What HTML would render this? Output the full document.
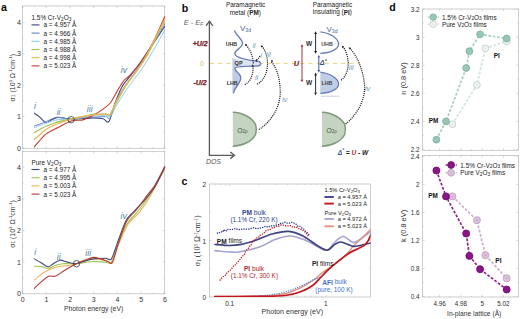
<!DOCTYPE html>
<html><head><meta charset="utf-8"><style>
html,body{margin:0;padding:0;background:#fff;width:520px;height:319px;overflow:hidden;}
svg{display:block;font-family:"Liberation Sans",sans-serif;}
</style></head><body>
<svg width="520" height="319" viewBox="0 0 520 319" font-family="Liberation Sans, sans-serif">
<rect width="520" height="319" fill="#fff"/>
<text x="1.0" y="7.2" font-size="10.60" fill="#0a0a0a" text-anchor="start" font-weight="bold" font-style="normal" dominant-baseline="central" >a</text>
<text x="181.8" y="7.6" font-size="10.60" fill="#0a0a0a" text-anchor="start" font-weight="bold" font-style="normal" dominant-baseline="central" >b</text>
<text x="181.6" y="181.2" font-size="10.60" fill="#0a0a0a" text-anchor="start" font-weight="bold" font-style="normal" dominant-baseline="central" >c</text>
<text x="389.2" y="7.2" font-size="10.60" fill="#0a0a0a" text-anchor="start" font-weight="bold" font-style="normal" dominant-baseline="central" >d</text>
<rect x="22.5" y="6.0" width="142.2" height="142.3" fill="none" stroke="#b8b8b8" stroke-width="0.7"/>
<line x1="22.5" y1="148.3" x2="22.5" y2="146.3" stroke="#b8b8b8" stroke-width="0.60" />
<line x1="22.5" y1="6.0" x2="22.5" y2="8.0" stroke="#b8b8b8" stroke-width="0.60" />
<line x1="46.2" y1="148.3" x2="46.2" y2="146.3" stroke="#b8b8b8" stroke-width="0.60" />
<line x1="46.2" y1="6.0" x2="46.2" y2="8.0" stroke="#b8b8b8" stroke-width="0.60" />
<line x1="69.9" y1="148.3" x2="69.9" y2="146.3" stroke="#b8b8b8" stroke-width="0.60" />
<line x1="69.9" y1="6.0" x2="69.9" y2="8.0" stroke="#b8b8b8" stroke-width="0.60" />
<line x1="93.6" y1="148.3" x2="93.6" y2="146.3" stroke="#b8b8b8" stroke-width="0.60" />
<line x1="93.6" y1="6.0" x2="93.6" y2="8.0" stroke="#b8b8b8" stroke-width="0.60" />
<line x1="117.3" y1="148.3" x2="117.3" y2="146.3" stroke="#b8b8b8" stroke-width="0.60" />
<line x1="117.3" y1="6.0" x2="117.3" y2="8.0" stroke="#b8b8b8" stroke-width="0.60" />
<line x1="141.0" y1="148.3" x2="141.0" y2="146.3" stroke="#b8b8b8" stroke-width="0.60" />
<line x1="141.0" y1="6.0" x2="141.0" y2="8.0" stroke="#b8b8b8" stroke-width="0.60" />
<line x1="164.7" y1="148.3" x2="164.7" y2="146.3" stroke="#b8b8b8" stroke-width="0.60" />
<line x1="164.7" y1="6.0" x2="164.7" y2="8.0" stroke="#b8b8b8" stroke-width="0.60" />
<line x1="34.4" y1="148.3" x2="34.4" y2="147.1" stroke="#b8b8b8" stroke-width="0.50" />
<line x1="34.4" y1="6.0" x2="34.4" y2="7.2" stroke="#b8b8b8" stroke-width="0.50" />
<line x1="58.0" y1="148.3" x2="58.0" y2="147.1" stroke="#b8b8b8" stroke-width="0.50" />
<line x1="58.0" y1="6.0" x2="58.0" y2="7.2" stroke="#b8b8b8" stroke-width="0.50" />
<line x1="81.8" y1="148.3" x2="81.8" y2="147.1" stroke="#b8b8b8" stroke-width="0.50" />
<line x1="81.8" y1="6.0" x2="81.8" y2="7.2" stroke="#b8b8b8" stroke-width="0.50" />
<line x1="105.5" y1="148.3" x2="105.5" y2="147.1" stroke="#b8b8b8" stroke-width="0.50" />
<line x1="105.5" y1="6.0" x2="105.5" y2="7.2" stroke="#b8b8b8" stroke-width="0.50" />
<line x1="129.1" y1="148.3" x2="129.1" y2="147.1" stroke="#b8b8b8" stroke-width="0.50" />
<line x1="129.1" y1="6.0" x2="129.1" y2="7.2" stroke="#b8b8b8" stroke-width="0.50" />
<line x1="152.8" y1="148.3" x2="152.8" y2="147.1" stroke="#b8b8b8" stroke-width="0.50" />
<line x1="152.8" y1="6.0" x2="152.8" y2="7.2" stroke="#b8b8b8" stroke-width="0.50" />
<line x1="22.5" y1="148.0" x2="24.5" y2="148.0" stroke="#b8b8b8" stroke-width="0.60" />
<line x1="164.7" y1="148.0" x2="162.7" y2="148.0" stroke="#b8b8b8" stroke-width="0.60" />
<text x="20.9" y="148.0" font-size="7.00" fill="#2e2e2e" text-anchor="end" font-weight="normal" font-style="normal" dominant-baseline="central" >0</text>
<line x1="22.5" y1="116.6" x2="24.5" y2="116.6" stroke="#b8b8b8" stroke-width="0.60" />
<line x1="164.7" y1="116.6" x2="162.7" y2="116.6" stroke="#b8b8b8" stroke-width="0.60" />
<text x="20.9" y="116.6" font-size="7.00" fill="#2e2e2e" text-anchor="end" font-weight="normal" font-style="normal" dominant-baseline="central" >1</text>
<line x1="22.5" y1="85.2" x2="24.5" y2="85.2" stroke="#b8b8b8" stroke-width="0.60" />
<line x1="164.7" y1="85.2" x2="162.7" y2="85.2" stroke="#b8b8b8" stroke-width="0.60" />
<text x="20.9" y="85.2" font-size="7.00" fill="#2e2e2e" text-anchor="end" font-weight="normal" font-style="normal" dominant-baseline="central" >2</text>
<line x1="22.5" y1="53.8" x2="24.5" y2="53.8" stroke="#b8b8b8" stroke-width="0.60" />
<line x1="164.7" y1="53.8" x2="162.7" y2="53.8" stroke="#b8b8b8" stroke-width="0.60" />
<text x="20.9" y="53.8" font-size="7.00" fill="#2e2e2e" text-anchor="end" font-weight="normal" font-style="normal" dominant-baseline="central" >3</text>
<line x1="22.5" y1="22.4" x2="24.5" y2="22.4" stroke="#b8b8b8" stroke-width="0.60" />
<line x1="164.7" y1="22.4" x2="162.7" y2="22.4" stroke="#b8b8b8" stroke-width="0.60" />
<text x="20.9" y="22.4" font-size="7.00" fill="#2e2e2e" text-anchor="end" font-weight="normal" font-style="normal" dominant-baseline="central" >4</text>
<line x1="22.5" y1="132.3" x2="23.7" y2="132.3" stroke="#b8b8b8" stroke-width="0.50" />
<line x1="164.7" y1="132.3" x2="163.5" y2="132.3" stroke="#b8b8b8" stroke-width="0.50" />
<line x1="22.5" y1="100.9" x2="23.7" y2="100.9" stroke="#b8b8b8" stroke-width="0.50" />
<line x1="164.7" y1="100.9" x2="163.5" y2="100.9" stroke="#b8b8b8" stroke-width="0.50" />
<line x1="22.5" y1="69.5" x2="23.7" y2="69.5" stroke="#b8b8b8" stroke-width="0.50" />
<line x1="164.7" y1="69.5" x2="163.5" y2="69.5" stroke="#b8b8b8" stroke-width="0.50" />
<line x1="22.5" y1="38.1" x2="23.7" y2="38.1" stroke="#b8b8b8" stroke-width="0.50" />
<line x1="164.7" y1="38.1" x2="163.5" y2="38.1" stroke="#b8b8b8" stroke-width="0.50" />
<line x1="22.5" y1="6.7" x2="23.7" y2="6.7" stroke="#b8b8b8" stroke-width="0.50" />
<line x1="164.7" y1="6.7" x2="163.5" y2="6.7" stroke="#b8b8b8" stroke-width="0.50" />
<path d="M34.4,113.1 C35.1,113.7 37.1,115.0 39.1,116.6 C41.1,118.2 44.0,122.1 46.2,122.6 C48.4,123.0 50.1,120.3 52.1,119.4 C54.1,118.6 55.9,117.8 58.0,117.5 C60.2,117.3 63.0,117.9 65.2,118.2 C67.3,118.4 68.3,119.0 71.1,119.1 C73.8,119.2 78.0,119.0 81.8,118.8 C85.5,118.6 90.0,117.9 93.6,117.9 C97.2,117.9 100.5,118.2 103.1,118.8 C105.6,119.4 107.0,123.9 109.0,121.3 C111.0,118.7 112.8,109.2 114.9,103.4 C117.1,97.7 119.7,91.1 122.0,86.8 C124.4,82.4 126.0,81.5 129.1,77.4 C132.3,73.2 137.1,67.1 141.0,61.7 C144.9,56.2 148.9,50.2 152.8,44.4 C156.8,38.5 162.7,29.5 164.7,26.5" stroke="#3b4587" stroke-width="1.10" fill="none" stroke-linecap="round" stroke-linejoin="round" />
<path d="M34.4,126.0 C35.5,125.6 39.5,124.2 41.5,123.5 C43.4,122.8 44.4,122.4 46.2,121.6 C48.0,120.8 50.1,119.5 52.1,118.8 C54.1,118.1 54.9,117.2 58.0,117.2 C61.2,117.3 67.1,119.0 71.1,119.1 C75.0,119.2 78.0,118.2 81.8,117.9 C85.5,117.5 89.6,117.4 93.6,117.2 C97.5,117.0 102.7,116.5 105.5,116.6 C108.2,116.7 108.4,120.2 110.2,117.5 C112.0,114.9 113.7,106.0 116.1,100.9 C118.5,95.8 121.8,90.7 124.4,86.8 C127.0,82.8 128.8,81.3 131.5,77.4 C134.3,73.4 137.4,68.7 141.0,63.2 C144.6,57.7 148.9,50.9 152.8,44.4 C156.8,37.8 162.7,27.4 164.7,24.0" stroke="#6681c2" stroke-width="1.00" fill="none" stroke-linecap="round" stroke-linejoin="round" />
<path d="M34.4,127.6 C35.5,127.1 39.5,125.5 41.5,124.8 C43.4,124.0 43.4,123.7 46.2,122.9 C49.0,122.0 53.9,120.4 58.0,119.7 C62.2,119.1 67.1,119.5 71.1,119.1 C75.0,118.7 78.0,118.1 81.8,117.5 C85.5,117.0 89.6,116.3 93.6,116.0 C97.5,115.7 102.6,115.7 105.5,115.7 C108.3,115.7 108.7,117.9 110.7,116.0 C112.6,114.0 114.2,109.1 117.3,104.0 C120.4,99.0 125.2,91.5 129.1,85.8 C133.1,80.2 137.1,75.9 141.0,70.1 C144.9,64.4 148.9,57.9 152.8,51.3 C156.8,44.6 162.7,33.8 164.7,30.2" stroke="#8ccbea" stroke-width="1.00" fill="none" stroke-linecap="round" stroke-linejoin="round" />
<path d="M34.4,146.7 C35.5,145.4 39.5,140.7 41.5,138.6 C43.4,136.4 43.4,135.7 46.2,133.9 C49.0,132.0 53.9,129.7 58.0,127.6 C62.2,125.4 67.1,122.3 71.1,121.0 C75.0,119.7 78.8,120.7 81.8,120.1 C84.7,119.4 86.9,118.1 88.9,117.2 C90.8,116.4 91.2,116.4 93.6,115.0 C96.0,113.7 100.2,111.2 103.1,109.1 C105.9,107.0 108.3,105.5 110.7,102.5 C113.0,99.4 115.1,94.5 117.3,90.9 C119.5,87.2 121.8,83.2 123.9,80.5 C126.1,77.8 127.5,78.0 130.3,74.8 C133.2,71.7 137.2,67.0 141.0,61.7 C144.8,56.3 148.9,50.3 152.8,42.8 C156.8,35.3 162.7,21.1 164.7,16.7" stroke="#c23b2f" stroke-width="1.10" fill="none" stroke-linecap="round" stroke-linejoin="round" />
<path d="M34.4,132.6 C35.5,131.9 39.5,129.6 41.5,128.5 C43.4,127.5 43.4,127.4 46.2,126.3 C49.0,125.2 53.9,123.1 58.0,121.9 C62.2,120.7 67.1,119.9 71.1,119.1 C75.0,118.3 78.0,117.7 81.8,116.9 C85.5,116.1 89.6,114.9 93.6,114.4 C97.5,113.9 102.7,114.0 105.5,114.1 C108.2,114.1 108.2,116.9 110.2,114.7 C112.2,112.5 114.6,105.8 117.3,100.9 C120.0,96.0 123.1,90.1 126.3,85.2 C129.5,80.3 132.6,76.9 136.3,71.7 C139.9,66.5 143.4,62.3 148.1,53.8 C152.8,45.3 161.9,26.3 164.7,20.8" stroke="#9dc452" stroke-width="1.20" fill="none" stroke-linecap="round" stroke-linejoin="round" />
<path d="M34.4,139.5 C35.5,138.5 39.5,135.0 41.5,133.2 C43.4,131.5 43.4,130.8 46.2,129.2 C49.0,127.5 53.9,125.2 58.0,123.5 C62.2,121.8 67.1,120.3 71.1,119.1 C75.0,118.0 78.0,117.3 81.8,116.6 C85.5,115.9 89.6,115.4 93.6,115.0 C97.5,114.6 102.7,114.2 105.5,114.1 C108.2,113.9 108.2,116.5 110.2,114.1 C112.2,111.6 114.5,104.4 117.3,99.3 C120.1,94.3 123.6,88.2 126.8,83.6 C129.9,79.0 132.7,76.9 136.3,71.7 C139.8,66.5 143.4,61.0 148.1,52.2 C152.8,43.5 161.9,24.8 164.7,19.3" stroke="#f0b354" stroke-width="1.20" fill="none" stroke-linecap="round" stroke-linejoin="round" />
<circle cx="71.1" cy="119.7" r="3.2" fill="none" stroke="#2a3a4a" stroke-width="0.8"/>
<text x="35.0" y="106.0" font-size="8.80" fill="#5288a6" text-anchor="middle" font-weight="normal" font-style="italic" dominant-baseline="central" >i</text>
<text x="58.6" y="112.2" font-size="8.80" fill="#5288a6" text-anchor="middle" font-weight="normal" font-style="italic" dominant-baseline="central" >ii</text>
<text x="89.7" y="108.8" font-size="8.80" fill="#5288a6" text-anchor="middle" font-weight="normal" font-style="italic" dominant-baseline="central" >iii</text>
<text x="124.0" y="70.4" font-size="8.80" fill="#5288a6" text-anchor="middle" font-weight="normal" font-style="italic" dominant-baseline="central" >iv</text>
<text x="31.5" y="17.9" font-size="6.40" fill="#222" text-anchor="start" font-weight="normal" font-style="normal" dominant-baseline="central" >1.5% Cr-V<tspan baseline-shift="-25%" font-size="75%">2</tspan>O<tspan baseline-shift="-25%" font-size="75%">3</tspan></text>
<line x1="31.5" y1="24.9" x2="39.5" y2="24.9" stroke="#3b4587" stroke-width="1.10" />
<text x="43.5" y="24.9" font-size="6.40" fill="#222" text-anchor="start" font-weight="normal" font-style="normal" dominant-baseline="central" >a = 4.957 Å</text>
<line x1="31.5" y1="33.1" x2="39.5" y2="33.1" stroke="#6681c2" stroke-width="1.10" />
<text x="43.5" y="33.1" font-size="6.40" fill="#222" text-anchor="start" font-weight="normal" font-style="normal" dominant-baseline="central" >a = 4.966 Å</text>
<line x1="31.5" y1="41.3" x2="39.5" y2="41.3" stroke="#8ccbea" stroke-width="1.10" />
<text x="43.5" y="41.3" font-size="6.40" fill="#222" text-anchor="start" font-weight="normal" font-style="normal" dominant-baseline="central" >a = 4.985 Å</text>
<line x1="31.5" y1="49.5" x2="39.5" y2="49.5" stroke="#9dc452" stroke-width="1.10" />
<text x="43.5" y="49.5" font-size="6.40" fill="#222" text-anchor="start" font-weight="normal" font-style="normal" dominant-baseline="central" >a = 4.988 Å</text>
<line x1="31.5" y1="57.7" x2="39.5" y2="57.7" stroke="#f0b354" stroke-width="1.10" />
<text x="43.5" y="57.7" font-size="6.40" fill="#222" text-anchor="start" font-weight="normal" font-style="normal" dominant-baseline="central" >a = 4.998 Å</text>
<line x1="31.5" y1="65.9" x2="39.5" y2="65.9" stroke="#c23b2f" stroke-width="1.10" />
<text x="43.5" y="65.9" font-size="6.40" fill="#222" text-anchor="start" font-weight="normal" font-style="normal" dominant-baseline="central" >a = 5.023 Å</text>
<text x="0" y="0" transform="translate(12.0,77.6) rotate(-90)" font-size="7.0" fill="#333" text-anchor="middle" dominant-baseline="central">σ<tspan font-size="65%" baseline-shift="-20%">1</tspan> (10<tspan font-size="60%" baseline-shift="45%">3</tspan> Ω<tspan font-size="60%" baseline-shift="45%">-1</tspan>cm<tspan font-size="60%" baseline-shift="45%">-1</tspan>)</text>
<rect x="22.5" y="151.3" width="142.2" height="142.5" fill="none" stroke="#b8b8b8" stroke-width="0.7"/>
<line x1="22.5" y1="293.8" x2="22.5" y2="291.8" stroke="#b8b8b8" stroke-width="0.60" />
<line x1="22.5" y1="151.3" x2="22.5" y2="153.3" stroke="#b8b8b8" stroke-width="0.60" />
<line x1="46.2" y1="293.8" x2="46.2" y2="291.8" stroke="#b8b8b8" stroke-width="0.60" />
<line x1="46.2" y1="151.3" x2="46.2" y2="153.3" stroke="#b8b8b8" stroke-width="0.60" />
<line x1="69.9" y1="293.8" x2="69.9" y2="291.8" stroke="#b8b8b8" stroke-width="0.60" />
<line x1="69.9" y1="151.3" x2="69.9" y2="153.3" stroke="#b8b8b8" stroke-width="0.60" />
<line x1="93.6" y1="293.8" x2="93.6" y2="291.8" stroke="#b8b8b8" stroke-width="0.60" />
<line x1="93.6" y1="151.3" x2="93.6" y2="153.3" stroke="#b8b8b8" stroke-width="0.60" />
<line x1="117.3" y1="293.8" x2="117.3" y2="291.8" stroke="#b8b8b8" stroke-width="0.60" />
<line x1="117.3" y1="151.3" x2="117.3" y2="153.3" stroke="#b8b8b8" stroke-width="0.60" />
<line x1="141.0" y1="293.8" x2="141.0" y2="291.8" stroke="#b8b8b8" stroke-width="0.60" />
<line x1="141.0" y1="151.3" x2="141.0" y2="153.3" stroke="#b8b8b8" stroke-width="0.60" />
<line x1="164.7" y1="293.8" x2="164.7" y2="291.8" stroke="#b8b8b8" stroke-width="0.60" />
<line x1="164.7" y1="151.3" x2="164.7" y2="153.3" stroke="#b8b8b8" stroke-width="0.60" />
<line x1="34.4" y1="293.8" x2="34.4" y2="292.6" stroke="#b8b8b8" stroke-width="0.50" />
<line x1="34.4" y1="151.3" x2="34.4" y2="152.5" stroke="#b8b8b8" stroke-width="0.50" />
<line x1="58.0" y1="293.8" x2="58.0" y2="292.6" stroke="#b8b8b8" stroke-width="0.50" />
<line x1="58.0" y1="151.3" x2="58.0" y2="152.5" stroke="#b8b8b8" stroke-width="0.50" />
<line x1="81.8" y1="293.8" x2="81.8" y2="292.6" stroke="#b8b8b8" stroke-width="0.50" />
<line x1="81.8" y1="151.3" x2="81.8" y2="152.5" stroke="#b8b8b8" stroke-width="0.50" />
<line x1="105.5" y1="293.8" x2="105.5" y2="292.6" stroke="#b8b8b8" stroke-width="0.50" />
<line x1="105.5" y1="151.3" x2="105.5" y2="152.5" stroke="#b8b8b8" stroke-width="0.50" />
<line x1="129.1" y1="293.8" x2="129.1" y2="292.6" stroke="#b8b8b8" stroke-width="0.50" />
<line x1="129.1" y1="151.3" x2="129.1" y2="152.5" stroke="#b8b8b8" stroke-width="0.50" />
<line x1="152.8" y1="293.8" x2="152.8" y2="292.6" stroke="#b8b8b8" stroke-width="0.50" />
<line x1="152.8" y1="151.3" x2="152.8" y2="152.5" stroke="#b8b8b8" stroke-width="0.50" />
<line x1="22.5" y1="293.7" x2="24.5" y2="293.7" stroke="#b8b8b8" stroke-width="0.60" />
<line x1="164.7" y1="293.7" x2="162.7" y2="293.7" stroke="#b8b8b8" stroke-width="0.60" />
<text x="20.9" y="293.7" font-size="7.00" fill="#2e2e2e" text-anchor="end" font-weight="normal" font-style="normal" dominant-baseline="central" >0</text>
<line x1="22.5" y1="262.1" x2="24.5" y2="262.1" stroke="#b8b8b8" stroke-width="0.60" />
<line x1="164.7" y1="262.1" x2="162.7" y2="262.1" stroke="#b8b8b8" stroke-width="0.60" />
<text x="20.9" y="262.1" font-size="7.00" fill="#2e2e2e" text-anchor="end" font-weight="normal" font-style="normal" dominant-baseline="central" >1</text>
<line x1="22.5" y1="230.5" x2="24.5" y2="230.5" stroke="#b8b8b8" stroke-width="0.60" />
<line x1="164.7" y1="230.5" x2="162.7" y2="230.5" stroke="#b8b8b8" stroke-width="0.60" />
<text x="20.9" y="230.5" font-size="7.00" fill="#2e2e2e" text-anchor="end" font-weight="normal" font-style="normal" dominant-baseline="central" >2</text>
<line x1="22.5" y1="198.9" x2="24.5" y2="198.9" stroke="#b8b8b8" stroke-width="0.60" />
<line x1="164.7" y1="198.9" x2="162.7" y2="198.9" stroke="#b8b8b8" stroke-width="0.60" />
<text x="20.9" y="198.9" font-size="7.00" fill="#2e2e2e" text-anchor="end" font-weight="normal" font-style="normal" dominant-baseline="central" >3</text>
<line x1="22.5" y1="167.3" x2="24.5" y2="167.3" stroke="#b8b8b8" stroke-width="0.60" />
<line x1="164.7" y1="167.3" x2="162.7" y2="167.3" stroke="#b8b8b8" stroke-width="0.60" />
<text x="20.9" y="167.3" font-size="7.00" fill="#2e2e2e" text-anchor="end" font-weight="normal" font-style="normal" dominant-baseline="central" >4</text>
<line x1="22.5" y1="277.9" x2="23.7" y2="277.9" stroke="#b8b8b8" stroke-width="0.50" />
<line x1="164.7" y1="277.9" x2="163.5" y2="277.9" stroke="#b8b8b8" stroke-width="0.50" />
<line x1="22.5" y1="246.3" x2="23.7" y2="246.3" stroke="#b8b8b8" stroke-width="0.50" />
<line x1="164.7" y1="246.3" x2="163.5" y2="246.3" stroke="#b8b8b8" stroke-width="0.50" />
<line x1="22.5" y1="214.7" x2="23.7" y2="214.7" stroke="#b8b8b8" stroke-width="0.50" />
<line x1="164.7" y1="214.7" x2="163.5" y2="214.7" stroke="#b8b8b8" stroke-width="0.50" />
<line x1="22.5" y1="183.1" x2="23.7" y2="183.1" stroke="#b8b8b8" stroke-width="0.50" />
<line x1="164.7" y1="183.1" x2="163.5" y2="183.1" stroke="#b8b8b8" stroke-width="0.50" />
<line x1="22.5" y1="151.5" x2="23.7" y2="151.5" stroke="#b8b8b8" stroke-width="0.50" />
<line x1="164.7" y1="151.5" x2="163.5" y2="151.5" stroke="#b8b8b8" stroke-width="0.50" />
<path d="M34.4,266.2 C35.5,266.3 39.1,266.2 41.5,266.5 C43.8,266.9 46.2,268.6 48.6,268.4 C50.9,268.2 53.3,266.0 55.7,265.3 C58.0,264.5 59.3,263.9 62.8,263.7 C66.3,263.4 72.6,263.9 76.5,263.7 C80.5,263.4 83.6,262.5 86.5,262.1 C89.3,261.7 90.4,261.5 93.6,261.5 C96.8,261.5 102.5,262.0 105.5,262.1 C108.4,262.2 109.4,264.7 111.4,262.1 C113.3,259.5 114.7,252.6 117.3,246.3 C119.9,240.0 123.6,229.7 126.8,224.2 C129.9,218.6 132.7,217.6 136.3,213.1 C139.8,208.6 143.4,204.7 148.1,197.3 C152.8,189.9 161.9,173.6 164.7,168.9" stroke="#9dc452" stroke-width="1.10" fill="none" stroke-linecap="round" stroke-linejoin="round" />
<path d="M34.4,280.1 C35.5,279.1 39.1,275.8 41.5,274.1 C43.8,272.4 45.8,271.2 48.6,270.0 C51.3,268.8 54.5,267.6 58.0,266.8 C61.6,266.0 66.8,265.8 69.9,265.3 C73.0,264.7 73.8,264.5 76.5,263.7 C79.3,262.9 83.6,261.3 86.5,260.5 C89.3,259.7 90.4,258.9 93.6,258.9 C96.8,258.9 102.5,260.0 105.5,260.5 C108.4,261.0 109.2,264.7 111.4,262.1 C113.5,259.5 115.7,251.0 118.5,244.7 C121.2,238.4 124.6,229.4 128.0,224.2 C131.3,218.9 134.9,217.9 138.6,213.1 C142.4,208.4 146.1,203.4 150.5,195.7 C154.8,188.1 162.3,172.0 164.7,167.3" stroke="#f0b354" stroke-width="1.10" fill="none" stroke-linecap="round" stroke-linejoin="round" />
<path d="M34.4,258.9 C35.5,259.6 39.2,261.7 41.5,263.0 C43.8,264.4 46.1,266.7 48.1,266.8 C50.1,266.9 51.3,264.8 53.3,263.7 C55.3,262.6 57.6,260.5 59.9,260.2 C62.3,259.9 64.8,261.5 67.5,262.1 C70.3,262.7 73.4,263.9 76.5,263.7 C79.7,263.4 83.6,261.3 86.5,260.5 C89.3,259.7 90.4,259.3 93.6,258.9 C96.8,258.6 102.5,258.3 105.5,258.3 C108.4,258.3 109.4,261.5 111.4,258.9 C113.3,256.4 114.8,249.6 117.3,243.1 C119.8,236.7 123.5,225.3 126.3,220.1 C129.1,214.8 130.7,215.1 133.9,211.5 C137.1,208.0 142.2,203.1 145.7,198.9 C149.3,194.7 152.1,191.5 155.2,186.3 C158.4,181.0 163.1,170.5 164.7,167.3" stroke="#3d4a7a" stroke-width="1.10" fill="none" stroke-linecap="round" stroke-linejoin="round" />
<path d="M34.4,288.3 C35.5,287.2 39.1,283.7 41.5,281.7 C43.8,279.7 46.2,277.3 48.6,276.3 C50.9,275.4 52.9,277.1 55.7,276.0 C58.4,275.0 61.7,272.1 65.2,270.0 C68.6,267.9 73.0,265.4 76.5,263.7 C80.1,261.9 83.6,260.6 86.5,259.6 C89.3,258.5 91.2,257.5 93.6,257.4 C96.0,257.3 98.3,258.3 100.7,258.9 C103.1,259.6 105.8,260.9 107.8,261.5 C109.8,262.0 110.8,265.2 112.6,262.1 C114.3,259.0 116.1,250.0 118.5,243.1 C120.9,236.3 123.8,226.5 126.8,221.0 C129.7,215.5 133.1,213.9 136.3,210.0 C139.4,206.0 142.6,201.5 145.7,197.3 C148.9,193.1 152.1,189.8 155.2,184.7 C158.4,179.6 163.1,169.7 164.7,166.7" stroke="#b03a30" stroke-width="1.10" fill="none" stroke-linecap="round" stroke-linejoin="round" />
<circle cx="76.5" cy="263.7" r="3.2" fill="none" stroke="#2a3a4a" stroke-width="0.8"/>
<text x="35.3" y="251.8" font-size="8.80" fill="#5288a6" text-anchor="middle" font-weight="normal" font-style="italic" dominant-baseline="central" >i</text>
<text x="58.8" y="256.5" font-size="8.80" fill="#5288a6" text-anchor="middle" font-weight="normal" font-style="italic" dominant-baseline="central" >ii</text>
<text x="88.2" y="253.4" font-size="8.80" fill="#5288a6" text-anchor="middle" font-weight="normal" font-style="italic" dominant-baseline="central" >iii</text>
<text x="123.8" y="215.5" font-size="8.80" fill="#5288a6" text-anchor="middle" font-weight="normal" font-style="italic" dominant-baseline="central" >iv</text>
<text x="31.5" y="162.5" font-size="6.40" fill="#222" text-anchor="start" font-weight="normal" font-style="normal" dominant-baseline="central" >Pure V<tspan baseline-shift="-25%" font-size="75%">2</tspan>O<tspan baseline-shift="-25%" font-size="75%">3</tspan></text>
<line x1="31.5" y1="169.5" x2="39.5" y2="169.5" stroke="#3d4a7a" stroke-width="1.10" />
<text x="43.5" y="169.5" font-size="6.40" fill="#222" text-anchor="start" font-weight="normal" font-style="normal" dominant-baseline="central" >a = 4.977 Å</text>
<line x1="31.5" y1="177.7" x2="39.5" y2="177.7" stroke="#9dc452" stroke-width="1.10" />
<text x="43.5" y="177.7" font-size="6.40" fill="#222" text-anchor="start" font-weight="normal" font-style="normal" dominant-baseline="central" >a = 4.995 Å</text>
<line x1="31.5" y1="185.9" x2="39.5" y2="185.9" stroke="#f0b354" stroke-width="1.10" />
<text x="43.5" y="185.9" font-size="6.40" fill="#222" text-anchor="start" font-weight="normal" font-style="normal" dominant-baseline="central" >a = 5.003 Å</text>
<line x1="31.5" y1="194.1" x2="39.5" y2="194.1" stroke="#b03a30" stroke-width="1.10" />
<text x="43.5" y="194.1" font-size="6.40" fill="#222" text-anchor="start" font-weight="normal" font-style="normal" dominant-baseline="central" >a = 5.023 Å</text>
<text x="0" y="0" transform="translate(12.0,224.0) rotate(-90)" font-size="7.0" fill="#333" text-anchor="middle" dominant-baseline="central">σ<tspan font-size="65%" baseline-shift="-20%">1</tspan> (10<tspan font-size="60%" baseline-shift="45%">3</tspan> Ω<tspan font-size="60%" baseline-shift="45%">-1</tspan>cm<tspan font-size="60%" baseline-shift="45%">-1</tspan>)</text>
<text x="22.7" y="299.0" font-size="7.00" fill="#2e2e2e" text-anchor="middle" font-weight="normal" font-style="normal" dominant-baseline="central" >0</text>
<text x="46.4" y="299.0" font-size="7.00" fill="#2e2e2e" text-anchor="middle" font-weight="normal" font-style="normal" dominant-baseline="central" >1</text>
<text x="70.1" y="299.0" font-size="7.00" fill="#2e2e2e" text-anchor="middle" font-weight="normal" font-style="normal" dominant-baseline="central" >2</text>
<text x="93.8" y="299.0" font-size="7.00" fill="#2e2e2e" text-anchor="middle" font-weight="normal" font-style="normal" dominant-baseline="central" >3</text>
<text x="117.5" y="299.0" font-size="7.00" fill="#2e2e2e" text-anchor="middle" font-weight="normal" font-style="normal" dominant-baseline="central" >4</text>
<text x="141.2" y="299.0" font-size="7.00" fill="#2e2e2e" text-anchor="middle" font-weight="normal" font-style="normal" dominant-baseline="central" >5</text>
<text x="164.9" y="299.0" font-size="7.00" fill="#2e2e2e" text-anchor="middle" font-weight="normal" font-style="normal" dominant-baseline="central" >6</text>
<text x="93.6" y="308.5" font-size="6.85" fill="#333" text-anchor="middle" font-weight="normal" font-style="normal" dominant-baseline="central" >Photon energy (eV)</text>
<text x="245.6" y="4.0" font-size="6.40" fill="#222" text-anchor="middle" font-weight="normal" font-style="normal" dominant-baseline="central" >Paramagnetic</text>
<text x="245.3" y="12.0" font-size="6.40" fill="#222" text-anchor="middle" font-weight="normal" font-style="normal" dominant-baseline="central" >metal (<tspan font-weight="bold">PM</tspan>)</text>
<text x="332.5" y="4.0" font-size="6.40" fill="#222" text-anchor="middle" font-weight="normal" font-style="normal" dominant-baseline="central" >Paramagnetic</text>
<text x="332.3" y="11.8" font-size="6.40" fill="#222" text-anchor="middle" font-weight="normal" font-style="normal" dominant-baseline="central" >insulating (<tspan font-weight="bold">PI</tspan>)</text>
<path d="M209.4,21.8 L209.4,155.3 L233,155.3" fill="none" stroke="#5a5a5a" stroke-width="1.3"/>
<path d="M206,25.8 L209.4,21.2 L212.8,25.8" fill="none" stroke="#5a5a5a" stroke-width="1.35"/>
<path d="M230.3,152 L234.5,155.3 L230.3,158.6" fill="none" stroke="#5a5a5a" stroke-width="1.35"/>
<text x="193.5" y="22.8" font-size="7.40" fill="#5e5e5e" text-anchor="middle" font-weight="normal" font-style="italic" dominant-baseline="central" >E - E<tspan font-size="65%" dy="1.3">F</tspan></text>
<text x="213.5" y="161.8" font-size="6.90" fill="#555" text-anchor="middle" font-weight="normal" font-style="italic" dominant-baseline="central" >DOS</text>
<text x="200.2" y="43.2" font-size="7.00" fill="#7a2026" text-anchor="middle" font-weight="bold" font-style="italic" dominant-baseline="central" stroke="#7a2026" stroke-width="0.25">+U/2</text>
<text x="200.0" y="82.5" font-size="7.00" fill="#7a2026" text-anchor="middle" font-weight="bold" font-style="italic" dominant-baseline="central" stroke="#7a2026" stroke-width="0.25">-U/2</text>
<text x="202.0" y="63.5" font-size="6.80" fill="#e0c25c" text-anchor="middle" font-weight="normal" font-style="normal" dominant-baseline="central" >0</text>
<line x1="210" y1="63.4" x2="360" y2="63.4" stroke="#eed27c" stroke-width="1.0" stroke-dasharray="4,4.2"/>
<path d="M232.8,112.2 C242.8,112.4 252.3,118 255.5,124.5 C256.4,127.5 256.4,131.5 255.5,134.5 C252.3,141 242.8,146 232.8,146.2 Z" fill="#c5d4c0" stroke="none"/>
<path d="M232.8,112.2 C242.8,112.4 252.3,118 255.5,124.5 C256.4,127.5 256.4,131.5 255.5,134.5 C252.3,141 242.8,146 232.8,146.2" fill="none" stroke="#7f9a7a" stroke-width="1.5"/>
<text x="242.3" y="130.3" font-size="6.80" fill="#4a5548" text-anchor="middle" font-weight="normal" font-style="normal" dominant-baseline="central" >O<tspan font-size="65%" baseline-shift="-25%">2p</tspan></text>
<path d="M322.0,112.2 C332.0,112.4 341.5,118 344.7,124.5 C345.6,127.5 345.6,131.5 344.7,134.5 C341.5,141 332.0,146 322.0,146.2 Z" fill="#c5d4c0" stroke="none"/>
<path d="M322.0,112.2 C332.0,112.4 341.5,118 344.7,124.5 C345.6,127.5 345.6,131.5 344.7,134.5 C341.5,141 332.0,146 322.0,146.2" fill="none" stroke="#7f9a7a" stroke-width="1.5"/>
<text x="331.5" y="130.3" font-size="6.80" fill="#4a5548" text-anchor="middle" font-weight="normal" font-style="normal" dominant-baseline="central" >O<tspan font-size="65%" baseline-shift="-25%">2p</tspan></text>
<path d="M232.4,58 C236,60.5 250,61 258,61.4 C261.5,61.9 261.5,65.8 258,66 C250,66.4 235,66 235,68.5 C235,72 240.8,73 240.8,77.5 C240.8,84 233.6,88 233.6,93.2 L232.4,93.2 Z" fill="#bfcde7" stroke="none"/>
<path d="M235.5,59 C240,60.5 252,61 258,61.4 C261.5,61.9 261.5,65.8 258,66 C250,66.4 236,66 236,63 Z" fill="#dde5f2" stroke="none"/>
<path d="M234.3,30.5 C236.5,36 242.5,39 242.5,43.5 C242.5,48 235,49.5 234.8,53.5 C234.8,58 250,60.6 258,61.4 C261.5,61.9 261.5,65.8 258,66 C250,66.4 235,66 235,68.5 C235,72 240.8,73 240.8,77.5 C240.8,84 233.6,88 233.6,93.2" fill="none" stroke="#6a7fb6" stroke-width="1.35"/>
<text x="245.5" y="28.8" font-size="8.00" fill="#4d6aa8" text-anchor="middle" font-weight="normal" font-style="normal" dominant-baseline="central" >V<tspan font-size="65%" baseline-shift="-25%">3d</tspan></text>
<text x="231.4" y="43.6" font-size="5.30" fill="#333" text-anchor="middle" font-weight="bold" font-style="normal" dominant-baseline="central" >UHB</text>
<text x="238.6" y="62.8" font-size="5.60" fill="#333" text-anchor="middle" font-weight="bold" font-style="normal" dominant-baseline="central" >QP</text>
<text x="232.1" y="82.6" font-size="5.30" fill="#333" text-anchor="middle" font-weight="bold" font-style="normal" dominant-baseline="central" >LHB</text>
<path d="M253.3,63.4 C253,56 250,49 245.6,44.6" fill="none" stroke="#1a1a1a" stroke-width="1.20" stroke-dasharray="1.1,1.0"/>
<path d="M244.8,43.9 L247.3,44.4 L245.7,46.2 Z" fill="#222"/>
<path d="M257,84.2 C268,79 271.5,59 262,46" fill="none" stroke="#1a1a1a" stroke-width="1.20" stroke-dasharray="1.1,1.0"/>
<path d="M260.9,45.1 L263.0,46.4 L261.0,47.6 Z" fill="#222"/>
<path d="M244.8,84.6 C250,82 253.5,76 253,65.5" fill="none" stroke="#1a1a1a" stroke-width="1.20" stroke-dasharray="1.1,1.0"/>
<path d="M252.6,64.3 L253.8,66.5 L251.4,66.5 Z" fill="#222"/>
<path d="M260,56 C259,58 257.5,59.5 256,60" fill="none" stroke="#1a1a1a" stroke-width="1.20" stroke-dasharray="1.1,1.0"/>
<path d="M255.0,60.3 L257.4,59.5 L257.0,61.9 Z" fill="#222"/>
<path d="M259,129.5 C272,121 281,106 280.2,90 C279.6,76 276,67 271.4,61.8" fill="none" stroke="#1a1a1a" stroke-width="1.20" stroke-dasharray="1.1,1.0"/>
<path d="M271.0,60.0 L273.4,60.7 L271.7,62.4 Z" fill="#222"/>
<text x="254.1" y="45.6" font-size="7.30" fill="#6f9fb8" text-anchor="middle" font-weight="normal" font-style="italic" dominant-baseline="central" >ii</text>
<text x="268.5" y="54.1" font-size="7.30" fill="#6f9fb8" text-anchor="middle" font-weight="normal" font-style="italic" dominant-baseline="central" >iii</text>
<text x="256.6" y="77.8" font-size="7.30" fill="#6f9fb8" text-anchor="middle" font-weight="normal" font-style="italic" dominant-baseline="central" >ii</text>
<text x="261.0" y="55.0" font-size="7.30" fill="#6f9fb8" text-anchor="middle" font-weight="normal" font-style="italic" dominant-baseline="central" >i</text>
<text x="284.8" y="99.0" font-size="7.30" fill="#6f9fb8" text-anchor="middle" font-weight="normal" font-style="italic" dominant-baseline="central" >iv</text>
<line x1="302" y1="46" x2="302" y2="80.5" stroke="#943038" stroke-width="0.95"/>
<path d="M302.0,44.3 L303.4,46.8 L300.6,46.8 Z" fill="#943038"/>
<path d="M302.0,82.2 L300.6,79.7 L303.4,79.7 Z" fill="#943038"/>
<text x="296.3" y="63.3" font-size="7.40" fill="#7a2026" text-anchor="middle" font-weight="bold" font-style="italic" dominant-baseline="central" stroke="#7a2026" stroke-width="0.2">U</text>
<line x1="315.6" y1="33.8" x2="315.6" y2="51.3" stroke="#222" stroke-width="0.95"/>
<path d="M315.6,31.3 L317.1,34.1 L314.1,34.1 Z" fill="#222"/>
<path d="M315.6,53.8 L314.1,51.0 L317.1,51.0 Z" fill="#222"/>
<text x="309.1" y="43.8" font-size="6.50" fill="#2a2a2a" text-anchor="middle" font-weight="bold" font-style="normal" dominant-baseline="central" >W</text>
<line x1="315.6" y1="75.1" x2="315.6" y2="92.7" stroke="#222" stroke-width="0.95"/>
<path d="M315.6,72.6 L317.1,75.4 L314.1,75.4 Z" fill="#222"/>
<path d="M315.6,95.2 L314.1,92.4 L317.1,92.4 Z" fill="#222"/>
<text x="309.1" y="82.7" font-size="6.50" fill="#2a2a2a" text-anchor="middle" font-weight="bold" font-style="normal" dominant-baseline="central" >W</text>
<line x1="318.8" y1="57.5" x2="318.8" y2="70" stroke="#3a5a9a" stroke-width="1"/>
<path d="M318.8,55.0 L320.2,57.6 L317.4,57.6 Z" fill="#3a5a9a"/>
<path d="M318.8,72.6 L317.4,70.0 L320.2,70.0 Z" fill="#3a5a9a"/>
<text x="323.2" y="62.8" font-size="7.20" fill="#3a5a9a" text-anchor="middle" font-weight="bold" font-style="italic" dominant-baseline="central" >Δ<tspan font-size="70%" baseline-shift="40%">*</tspan></text>
<path d="M320.3,31.8 C331,33 338.6,39 338.6,44 C338.6,49 331,53 320.3,53.4" fill="none" stroke="#6a7fb6" stroke-width="1.3"/>
<path d="M320.3,72.2 C331,73.5 338.6,79 338.6,84 C338.6,89 331,93 320.3,93.4 Z" fill="#bfcde7" stroke="none"/>
<path d="M320.3,72.2 C331,73.5 338.6,79 338.6,84 C338.6,89 331,93 320.3,93.4" fill="none" stroke="#6a7fb6" stroke-width="1.3"/>
<line x1="321" y1="96.2" x2="339.5" y2="96.2" stroke="#b9c3d6" stroke-width="0.8"/>
<text x="332.0" y="29.5" font-size="8.00" fill="#4d6aa8" text-anchor="middle" font-weight="normal" font-style="normal" dominant-baseline="central" >V<tspan font-size="65%" baseline-shift="-25%">3d</tspan></text>
<text x="327.0" y="43.5" font-size="5.30" fill="#444" text-anchor="middle" font-weight="bold" font-style="normal" dominant-baseline="central" >UHB</text>
<text x="327.0" y="83.0" font-size="5.30" fill="#444" text-anchor="middle" font-weight="bold" font-style="normal" dominant-baseline="central" >LHB</text>
<path d="M341,80.2 C347,76 350,66 347,55 C345.5,50 344,48 342.6,46.5" fill="none" stroke="#1a1a1a" stroke-width="1.20" stroke-dasharray="1.1,1.0"/>
<path d="M341.9,45.7 L344.2,46.8 L342.2,48.2 Z" fill="#222"/>
<path d="M345.7,124 C358,114 366,98 364.5,84 C363,70 357,55 349.5,48" fill="none" stroke="#1a1a1a" stroke-width="1.20" stroke-dasharray="1.1,1.0"/>
<path d="M348.8,47.2 L351.2,47.9 L349.5,49.6 Z" fill="#222"/>
<text x="351.3" y="67.0" font-size="7.30" fill="#6f9fb8" text-anchor="middle" font-weight="normal" font-style="italic" dominant-baseline="central" >iii</text>
<text x="367.6" y="88.0" font-size="7.30" fill="#6f9fb8" text-anchor="middle" font-weight="normal" font-style="italic" dominant-baseline="central" >iv</text>
<text x="353.0" y="152.0" font-size="6.60" fill="#222" text-anchor="middle" font-weight="bold" font-style="italic" dominant-baseline="central" ><tspan fill="#3a5a9a">Δ<tspan font-size="70%" baseline-shift="40%">*</tspan></tspan> = <tspan fill="#b22a2a">U</tspan> - W</text>
<rect x="209.5" y="184.0" width="161.1" height="113.0" fill="none" stroke="#b8b8b8" stroke-width="0.7"/>
<line x1="215.0" y1="297.0" x2="215.0" y2="295.7" stroke="#b8b8b8" stroke-width="0.50" />
<line x1="215.0" y1="184.0" x2="215.0" y2="185.3" stroke="#b8b8b8" stroke-width="0.50" />
<line x1="220.6" y1="297.0" x2="220.6" y2="295.7" stroke="#b8b8b8" stroke-width="0.50" />
<line x1="220.6" y1="184.0" x2="220.6" y2="185.3" stroke="#b8b8b8" stroke-width="0.50" />
<line x1="225.5" y1="297.0" x2="225.5" y2="295.7" stroke="#b8b8b8" stroke-width="0.50" />
<line x1="225.5" y1="184.0" x2="225.5" y2="185.3" stroke="#b8b8b8" stroke-width="0.50" />
<line x1="229.9" y1="297.0" x2="229.9" y2="294.8" stroke="#b8b8b8" stroke-width="0.50" />
<line x1="229.9" y1="184.0" x2="229.9" y2="186.2" stroke="#b8b8b8" stroke-width="0.50" />
<line x1="258.8" y1="297.0" x2="258.8" y2="295.7" stroke="#b8b8b8" stroke-width="0.50" />
<line x1="258.8" y1="184.0" x2="258.8" y2="185.3" stroke="#b8b8b8" stroke-width="0.50" />
<line x1="275.7" y1="297.0" x2="275.7" y2="295.7" stroke="#b8b8b8" stroke-width="0.50" />
<line x1="275.7" y1="184.0" x2="275.7" y2="185.3" stroke="#b8b8b8" stroke-width="0.50" />
<line x1="287.7" y1="297.0" x2="287.7" y2="295.7" stroke="#b8b8b8" stroke-width="0.50" />
<line x1="287.7" y1="184.0" x2="287.7" y2="185.3" stroke="#b8b8b8" stroke-width="0.50" />
<line x1="297.0" y1="297.0" x2="297.0" y2="295.7" stroke="#b8b8b8" stroke-width="0.50" />
<line x1="297.0" y1="184.0" x2="297.0" y2="185.3" stroke="#b8b8b8" stroke-width="0.50" />
<line x1="304.6" y1="297.0" x2="304.6" y2="295.7" stroke="#b8b8b8" stroke-width="0.50" />
<line x1="304.6" y1="184.0" x2="304.6" y2="185.3" stroke="#b8b8b8" stroke-width="0.50" />
<line x1="311.0" y1="297.0" x2="311.0" y2="295.7" stroke="#b8b8b8" stroke-width="0.50" />
<line x1="311.0" y1="184.0" x2="311.0" y2="185.3" stroke="#b8b8b8" stroke-width="0.50" />
<line x1="316.6" y1="297.0" x2="316.6" y2="295.7" stroke="#b8b8b8" stroke-width="0.50" />
<line x1="316.6" y1="184.0" x2="316.6" y2="185.3" stroke="#b8b8b8" stroke-width="0.50" />
<line x1="321.5" y1="297.0" x2="321.5" y2="295.7" stroke="#b8b8b8" stroke-width="0.50" />
<line x1="321.5" y1="184.0" x2="321.5" y2="185.3" stroke="#b8b8b8" stroke-width="0.50" />
<line x1="325.9" y1="297.0" x2="325.9" y2="294.8" stroke="#b8b8b8" stroke-width="0.50" />
<line x1="325.9" y1="184.0" x2="325.9" y2="186.2" stroke="#b8b8b8" stroke-width="0.50" />
<line x1="354.8" y1="297.0" x2="354.8" y2="295.7" stroke="#b8b8b8" stroke-width="0.50" />
<line x1="354.8" y1="184.0" x2="354.8" y2="185.3" stroke="#b8b8b8" stroke-width="0.50" />
<line x1="209.5" y1="268.8" x2="210.8" y2="268.8" stroke="#b8b8b8" stroke-width="0.50" />
<line x1="370.6" y1="268.8" x2="369.3" y2="268.8" stroke="#b8b8b8" stroke-width="0.50" />
<line x1="209.5" y1="240.5" x2="211.7" y2="240.5" stroke="#b8b8b8" stroke-width="0.50" />
<line x1="370.6" y1="240.5" x2="368.4" y2="240.5" stroke="#b8b8b8" stroke-width="0.50" />
<line x1="209.5" y1="212.2" x2="210.8" y2="212.2" stroke="#b8b8b8" stroke-width="0.50" />
<line x1="370.6" y1="212.2" x2="369.3" y2="212.2" stroke="#b8b8b8" stroke-width="0.50" />
<text x="206.0" y="184.0" font-size="6.50" fill="#2e2e2e" text-anchor="end" font-weight="normal" font-style="normal" dominant-baseline="central" >2</text>
<text x="206.0" y="241.0" font-size="6.50" fill="#2e2e2e" text-anchor="end" font-weight="normal" font-style="normal" dominant-baseline="central" >1</text>
<text x="206.0" y="297.0" font-size="6.50" fill="#2e2e2e" text-anchor="end" font-weight="normal" font-style="normal" dominant-baseline="central" >0</text>
<text x="229.7" y="303.0" font-size="6.50" fill="#2e2e2e" text-anchor="middle" font-weight="normal" font-style="normal" dominant-baseline="central" >0.1</text>
<text x="325.9" y="303.0" font-size="6.50" fill="#2e2e2e" text-anchor="middle" font-weight="normal" font-style="normal" dominant-baseline="central" >1</text>
<text x="292.3" y="312.3" font-size="7.10" fill="#333" text-anchor="middle" font-weight="normal" font-style="normal" dominant-baseline="central" >Photon energy (eV)</text>
<text x="0" y="0" transform="translate(197.9,240.8) rotate(-90)" font-size="7.9" fill="#333" text-anchor="middle" dominant-baseline="central" font-family="Liberation Serif, serif">σ<tspan font-size="70%" baseline-shift="-20%">1</tspan> (10<tspan font-size="65%" baseline-shift="45%">3</tspan> Ω<tspan font-size="65%" baseline-shift="45%">-1</tspan>cm<tspan font-size="65%" baseline-shift="45%">-1</tspan>)</text>
<clipPath id="cc"><rect x="209.5" y="184.0" width="161.1" height="113.0"/></clipPath>
<g clip-path="url(#cc)">
<path d="M215.0,250.6 C217.5,250.8 225.8,251.8 230.0,252.0 C234.2,252.2 235.0,252.6 240.0,251.7 C245.0,250.8 254.2,248.8 260.0,246.8 C265.8,244.8 270.0,241.3 275.0,239.5 C280.0,237.7 285.0,235.9 290.0,236.0 C295.0,236.1 300.3,238.2 305.0,240.0 C309.7,241.8 314.3,245.3 318.0,247.0 C321.7,248.7 324.2,251.2 327.4,250.0 C330.6,248.8 334.3,242.2 337.0,240.0 C339.7,237.8 340.9,236.1 343.7,236.5 C346.5,236.9 350.6,242.3 353.6,242.6 C356.7,242.8 359.1,239.9 362.0,238.0 C364.9,236.1 369.5,232.2 371.0,231.0" stroke="#a3a2d0" stroke-width="1.60" fill="none" stroke-linecap="round" stroke-linejoin="round" />
<path d="M214.8,296.4 C223.2,296.3 253.3,296.4 265.0,296.0 C276.7,295.6 279.2,295.0 285.0,293.7 C290.8,292.4 295.3,290.2 300.0,288.0 C304.7,285.8 309.3,283.0 313.0,280.5 C316.7,278.0 318.8,275.4 322.0,273.0 C325.2,270.6 328.2,268.9 332.0,266.0 C335.8,263.1 341.4,258.8 345.0,255.5 C348.6,252.2 350.8,248.9 353.6,246.0 C356.4,243.1 359.1,240.8 362.0,238.0 C364.9,235.2 369.5,230.5 371.0,229.0" stroke="#e39282" stroke-width="1.40" fill="none" stroke-linecap="round" stroke-linejoin="round" />
<path d="M214.0,296.8 C220.0,296.7 239.3,296.8 250.0,296.3 C260.7,295.8 269.9,295.3 278.2,293.7 C286.5,292.1 294.0,288.9 300.0,286.5 C306.0,284.1 310.2,281.1 314.0,279.5 C317.8,277.9 321.2,277.2 322.7,276.7" fill="none" stroke="#4a78d0" stroke-width="1.1" stroke-dasharray="1.2,1.2"/>
<path d="M215.0,244.5 C217.5,244.7 225.8,245.5 230.0,245.5 C234.2,245.5 235.8,245.5 240.0,244.7 C244.2,243.9 249.7,242.3 255.0,240.5 C260.3,238.7 266.4,235.5 272.0,234.0 C277.6,232.5 283.6,231.1 288.8,231.4 C294.0,231.7 298.1,233.6 303.0,236.0 C307.9,238.4 313.9,243.6 318.0,246.0 C322.1,248.4 324.7,250.4 327.4,250.2 C330.1,250.0 331.9,246.4 334.0,245.0 C336.1,243.6 337.8,242.2 340.0,242.0 C342.2,241.8 344.7,243.3 347.0,244.0 C349.3,244.7 351.1,246.2 353.6,246.4 C356.1,246.6 359.1,245.6 362.0,245.0 C364.9,244.4 369.5,243.3 371.0,243.0" stroke="#3f4384" stroke-width="1.70" fill="none" stroke-linecap="round" stroke-linejoin="round" />
<path d="M214.8,296.6 C222.3,296.6 248.3,296.6 260.0,296.4 C271.7,296.2 278.3,296.2 285.0,295.5 C291.7,294.8 295.3,293.7 300.0,292.0 C304.7,290.3 309.3,287.9 313.0,285.2 C316.7,282.5 318.8,279.1 322.0,276.0 C325.2,272.9 327.5,270.2 332.0,266.4 C336.5,262.6 344.6,256.2 349.0,253.2 C353.4,250.2 355.9,249.8 358.4,248.5 C360.9,247.2 362.4,246.8 364.0,245.6 C365.6,244.3 366.8,242.9 368.0,241.0 C369.2,239.1 370.5,235.2 371.0,234.0" stroke="#c4161c" stroke-width="1.70" fill="none" stroke-linecap="round" stroke-linejoin="round" />
<path d="M217.0,233.6 L217.5,233.0 L218.3,233.3 L219.2,232.7 L220.1,232.8 L221.1,232.6 L222.0,231.2 L222.8,230.7 L223.6,231.8 L224.3,230.2 L225.2,229.7 L226.3,230.7 L227.6,229.4 L229.2,229.9 L230.9,229.2 L232.9,229.4 L235.1,228.5 L237.4,229.3 L240.0,229.7 L243.0,228.9 L246.3,229.2 L249.8,229.0 L253.4,227.7 L256.9,228.8 L260.0,228.2 L262.8,227.3 L265.5,226.3 L268.0,227.3 L270.4,226.0 L272.7,225.9 L275.0,225.7 L277.2,224.8 L279.2,224.6 L281.1,223.0 L283.0,223.2 L285.0,222.2 L287.0,223.1 L289.1,223.2 L291.4,222.3 L293.7,223.0 L295.9,224.0 L298.0,226.3 L300.0,226.4 L301.9,228.1 L303.8,229.1 L305.6,231.3 L307.2,232.8 L308.5,234.2 L309.5,235.5" fill="none" stroke="#283a8c" stroke-width="1.3" stroke-dasharray="1.3,1.1" stroke-linejoin="round"/>
<path d="M219.7,280.5 L221.1,278.9 L223.0,276.8 L225.2,275.4 L227.6,272.2 L229.9,270.6 L232.0,268.3 L233.8,265.9 L235.6,264.7 L237.4,262.1 L239.0,260.9 L240.6,258.5 L242.0,256.7 L243.3,255.5 L244.5,254.4 L245.5,251.6 L246.5,250.1 L247.5,249.1 L248.5,248.2 L249.5,246.3 L250.4,244.9 L251.2,244.8 L252.1,242.3 L253.0,242.6 L254.0,240.7 L255.1,239.4 L256.2,238.3 L257.4,237.6 L258.6,237.4 L259.8,235.4 L261.0,235.1 L262.1,234.4 L263.3,233.2 L264.4,232.7 L265.5,231.2 L266.7,230.5 L268.0,230.0 L269.3,230.1 L270.8,228.9 L272.2,228.0 L273.7,227.8 L275.2,226.9 L276.7,226.2 L278.2,226.5 L279.6,226.0 L281.0,225.0 L282.5,225.3 L284.2,225.1 L286.0,225.8 L288.1,225.9 L290.5,225.6 L293.0,227.3 L295.5,226.7 L297.9,228.0 L300.0,229.4 L302.0,229.6 L303.9,231.5 L305.6,232.3 L307.2,234.7 L308.5,236.1 L309.5,236.5" fill="none" stroke="#c8202a" stroke-width="1.3" stroke-dasharray="1.3,1.1" stroke-linejoin="round"/>
</g>
<text x="254.0" y="212.3" font-size="6.60" fill="#2c3f8e" text-anchor="middle" font-weight="normal" font-style="normal" dominant-baseline="central" ><tspan font-weight="bold">PM</tspan> bulk</text>
<text x="254.0" y="219.5" font-size="6.40" fill="#2c3f8e" text-anchor="middle" font-weight="normal" font-style="normal" dominant-baseline="central" >(1.1% Cr, 220 K)</text>
<text x="229.5" y="240.6" font-size="6.60" fill="#222" text-anchor="middle" font-weight="normal" font-style="normal" dominant-baseline="central" ><tspan font-weight="bold">PM</tspan> films</text>
<text x="254.0" y="268.0" font-size="6.60" fill="#b0262a" text-anchor="middle" font-weight="normal" font-style="normal" dominant-baseline="central" ><tspan font-weight="bold">PI</tspan> bulk</text>
<text x="254.4" y="275.3" font-size="6.40" fill="#b0262a" text-anchor="middle" font-weight="normal" font-style="normal" dominant-baseline="central" >(1.1% Cr, 300 K)</text>
<text x="322.7" y="263.0" font-size="6.60" fill="#222" text-anchor="middle" font-weight="normal" font-style="normal" dominant-baseline="central" ><tspan font-weight="bold">PI</tspan> films</text>
<text x="334.5" y="281.8" font-size="6.60" fill="#3f6fd0" text-anchor="middle" font-weight="normal" font-style="normal" dominant-baseline="central" ><tspan font-weight="bold">AFI</tspan> bulk</text>
<text x="334.0" y="289.9" font-size="6.40" fill="#3f6fd0" text-anchor="middle" font-weight="normal" font-style="normal" dominant-baseline="central" >(pure, 100 K)</text>
<text x="324.4" y="190.2" font-size="5.70" fill="#222" text-anchor="start" font-weight="normal" font-style="normal" dominant-baseline="central" >1.5% Cr-V<tspan baseline-shift="-25%" font-size="75%">2</tspan>O<tspan baseline-shift="-25%" font-size="75%">3</tspan></text>
<text x="324.4" y="212.9" font-size="5.70" fill="#222" text-anchor="start" font-weight="normal" font-style="normal" dominant-baseline="central" >Pure V<tspan baseline-shift="-25%" font-size="75%">2</tspan>O<tspan baseline-shift="-25%" font-size="75%">3</tspan></text>
<line x1="324.4" y1="197.0" x2="333.8" y2="197.0" stroke="#3f4384" stroke-width="1.90" />
<line x1="324.4" y1="203.6" x2="333.8" y2="203.6" stroke="#c4161c" stroke-width="1.90" />
<line x1="324.4" y1="219.0" x2="333.8" y2="219.0" stroke="#a9a7d2" stroke-width="1.90" />
<line x1="324.4" y1="226.3" x2="333.8" y2="226.3" stroke="#e39282" stroke-width="1.90" />
<text x="337.7" y="197.0" font-size="5.70" fill="#222" text-anchor="start" font-weight="normal" font-style="normal" dominant-baseline="central" >a = 4.957 Å</text>
<text x="337.7" y="203.6" font-size="5.70" fill="#222" text-anchor="start" font-weight="normal" font-style="normal" dominant-baseline="central" >a = 5.023 Å</text>
<text x="337.7" y="219.0" font-size="5.70" fill="#222" text-anchor="start" font-weight="normal" font-style="normal" dominant-baseline="central" >a = 4.972 Å</text>
<text x="337.7" y="226.3" font-size="5.70" fill="#222" text-anchor="start" font-weight="normal" font-style="normal" dominant-baseline="central" >a = 5.023 Å</text>
<rect x="422.5" y="9.0" width="96.0" height="141.3" fill="none" stroke="#b8b8b8" stroke-width="0.7"/>
<line x1="429.0" y1="150.3" x2="429.0" y2="149.0" stroke="#b8b8b8" stroke-width="0.50" />
<line x1="429.0" y1="9.0" x2="429.0" y2="10.3" stroke="#b8b8b8" stroke-width="0.50" />
<line x1="439.6" y1="150.3" x2="439.6" y2="148.1" stroke="#b8b8b8" stroke-width="0.50" />
<line x1="439.6" y1="9.0" x2="439.6" y2="11.2" stroke="#b8b8b8" stroke-width="0.50" />
<line x1="450.2" y1="150.3" x2="450.2" y2="149.0" stroke="#b8b8b8" stroke-width="0.50" />
<line x1="450.2" y1="9.0" x2="450.2" y2="10.3" stroke="#b8b8b8" stroke-width="0.50" />
<line x1="460.9" y1="150.3" x2="460.9" y2="148.1" stroke="#b8b8b8" stroke-width="0.50" />
<line x1="460.9" y1="9.0" x2="460.9" y2="11.2" stroke="#b8b8b8" stroke-width="0.50" />
<line x1="471.6" y1="150.3" x2="471.6" y2="149.0" stroke="#b8b8b8" stroke-width="0.50" />
<line x1="471.6" y1="9.0" x2="471.6" y2="10.3" stroke="#b8b8b8" stroke-width="0.50" />
<line x1="482.2" y1="150.3" x2="482.2" y2="148.1" stroke="#b8b8b8" stroke-width="0.50" />
<line x1="482.2" y1="9.0" x2="482.2" y2="11.2" stroke="#b8b8b8" stroke-width="0.50" />
<line x1="492.8" y1="150.3" x2="492.8" y2="149.0" stroke="#b8b8b8" stroke-width="0.50" />
<line x1="492.8" y1="9.0" x2="492.8" y2="10.3" stroke="#b8b8b8" stroke-width="0.50" />
<line x1="503.5" y1="150.3" x2="503.5" y2="148.1" stroke="#b8b8b8" stroke-width="0.50" />
<line x1="503.5" y1="9.0" x2="503.5" y2="11.2" stroke="#b8b8b8" stroke-width="0.50" />
<line x1="514.2" y1="150.3" x2="514.2" y2="149.0" stroke="#b8b8b8" stroke-width="0.50" />
<line x1="514.2" y1="9.0" x2="514.2" y2="10.3" stroke="#b8b8b8" stroke-width="0.50" />
<rect x="422.5" y="155.5" width="96.0" height="141.5" fill="none" stroke="#b8b8b8" stroke-width="0.7"/>
<line x1="429.0" y1="297.0" x2="429.0" y2="295.7" stroke="#b8b8b8" stroke-width="0.50" />
<line x1="429.0" y1="155.5" x2="429.0" y2="156.8" stroke="#b8b8b8" stroke-width="0.50" />
<line x1="439.6" y1="297.0" x2="439.6" y2="294.8" stroke="#b8b8b8" stroke-width="0.50" />
<line x1="439.6" y1="155.5" x2="439.6" y2="157.7" stroke="#b8b8b8" stroke-width="0.50" />
<line x1="450.2" y1="297.0" x2="450.2" y2="295.7" stroke="#b8b8b8" stroke-width="0.50" />
<line x1="450.2" y1="155.5" x2="450.2" y2="156.8" stroke="#b8b8b8" stroke-width="0.50" />
<line x1="460.9" y1="297.0" x2="460.9" y2="294.8" stroke="#b8b8b8" stroke-width="0.50" />
<line x1="460.9" y1="155.5" x2="460.9" y2="157.7" stroke="#b8b8b8" stroke-width="0.50" />
<line x1="471.6" y1="297.0" x2="471.6" y2="295.7" stroke="#b8b8b8" stroke-width="0.50" />
<line x1="471.6" y1="155.5" x2="471.6" y2="156.8" stroke="#b8b8b8" stroke-width="0.50" />
<line x1="482.2" y1="297.0" x2="482.2" y2="294.8" stroke="#b8b8b8" stroke-width="0.50" />
<line x1="482.2" y1="155.5" x2="482.2" y2="157.7" stroke="#b8b8b8" stroke-width="0.50" />
<line x1="492.8" y1="297.0" x2="492.8" y2="295.7" stroke="#b8b8b8" stroke-width="0.50" />
<line x1="492.8" y1="155.5" x2="492.8" y2="156.8" stroke="#b8b8b8" stroke-width="0.50" />
<line x1="503.5" y1="297.0" x2="503.5" y2="294.8" stroke="#b8b8b8" stroke-width="0.50" />
<line x1="503.5" y1="155.5" x2="503.5" y2="157.7" stroke="#b8b8b8" stroke-width="0.50" />
<line x1="514.2" y1="297.0" x2="514.2" y2="295.7" stroke="#b8b8b8" stroke-width="0.50" />
<line x1="514.2" y1="155.5" x2="514.2" y2="156.8" stroke="#b8b8b8" stroke-width="0.50" />
<line x1="422.5" y1="149.5" x2="424.7" y2="149.5" stroke="#b8b8b8" stroke-width="0.50" />
<line x1="518.5" y1="149.5" x2="516.3" y2="149.5" stroke="#b8b8b8" stroke-width="0.50" />
<line x1="422.5" y1="135.5" x2="423.8" y2="135.5" stroke="#b8b8b8" stroke-width="0.50" />
<line x1="518.5" y1="135.5" x2="517.2" y2="135.5" stroke="#b8b8b8" stroke-width="0.50" />
<text x="419.5" y="149.5" font-size="6.30" fill="#2e2e2e" text-anchor="end" font-weight="normal" font-style="normal" dominant-baseline="central" >2.2</text>
<line x1="422.5" y1="121.4" x2="424.7" y2="121.4" stroke="#b8b8b8" stroke-width="0.50" />
<line x1="518.5" y1="121.4" x2="516.3" y2="121.4" stroke="#b8b8b8" stroke-width="0.50" />
<line x1="422.5" y1="107.4" x2="423.8" y2="107.4" stroke="#b8b8b8" stroke-width="0.50" />
<line x1="518.5" y1="107.4" x2="517.2" y2="107.4" stroke="#b8b8b8" stroke-width="0.50" />
<text x="419.5" y="121.4" font-size="6.30" fill="#2e2e2e" text-anchor="end" font-weight="normal" font-style="normal" dominant-baseline="central" >2.4</text>
<line x1="422.5" y1="93.3" x2="424.7" y2="93.3" stroke="#b8b8b8" stroke-width="0.50" />
<line x1="518.5" y1="93.3" x2="516.3" y2="93.3" stroke="#b8b8b8" stroke-width="0.50" />
<line x1="422.5" y1="79.3" x2="423.8" y2="79.3" stroke="#b8b8b8" stroke-width="0.50" />
<line x1="518.5" y1="79.3" x2="517.2" y2="79.3" stroke="#b8b8b8" stroke-width="0.50" />
<text x="419.5" y="93.3" font-size="6.30" fill="#2e2e2e" text-anchor="end" font-weight="normal" font-style="normal" dominant-baseline="central" >2.6</text>
<line x1="422.5" y1="65.2" x2="424.7" y2="65.2" stroke="#b8b8b8" stroke-width="0.50" />
<line x1="518.5" y1="65.2" x2="516.3" y2="65.2" stroke="#b8b8b8" stroke-width="0.50" />
<line x1="422.5" y1="51.2" x2="423.8" y2="51.2" stroke="#b8b8b8" stroke-width="0.50" />
<line x1="518.5" y1="51.2" x2="517.2" y2="51.2" stroke="#b8b8b8" stroke-width="0.50" />
<text x="419.5" y="65.2" font-size="6.30" fill="#2e2e2e" text-anchor="end" font-weight="normal" font-style="normal" dominant-baseline="central" >2.8</text>
<line x1="422.5" y1="37.1" x2="424.7" y2="37.1" stroke="#b8b8b8" stroke-width="0.50" />
<line x1="518.5" y1="37.1" x2="516.3" y2="37.1" stroke="#b8b8b8" stroke-width="0.50" />
<line x1="422.5" y1="23.1" x2="423.8" y2="23.1" stroke="#b8b8b8" stroke-width="0.50" />
<line x1="518.5" y1="23.1" x2="517.2" y2="23.1" stroke="#b8b8b8" stroke-width="0.50" />
<text x="419.5" y="37.1" font-size="6.30" fill="#2e2e2e" text-anchor="end" font-weight="normal" font-style="normal" dominant-baseline="central" >3</text>
<line x1="422.5" y1="9.0" x2="424.7" y2="9.0" stroke="#b8b8b8" stroke-width="0.50" />
<line x1="518.5" y1="9.0" x2="516.3" y2="9.0" stroke="#b8b8b8" stroke-width="0.50" />
<text x="419.5" y="9.0" font-size="6.30" fill="#2e2e2e" text-anchor="end" font-weight="normal" font-style="normal" dominant-baseline="central" >3.2</text>
<line x1="422.5" y1="296.5" x2="424.7" y2="296.5" stroke="#b8b8b8" stroke-width="0.50" />
<line x1="518.5" y1="296.5" x2="516.3" y2="296.5" stroke="#b8b8b8" stroke-width="0.50" />
<line x1="422.5" y1="282.5" x2="423.8" y2="282.5" stroke="#b8b8b8" stroke-width="0.50" />
<line x1="518.5" y1="282.5" x2="517.2" y2="282.5" stroke="#b8b8b8" stroke-width="0.50" />
<text x="419.5" y="296.5" font-size="6.30" fill="#2e2e2e" text-anchor="end" font-weight="normal" font-style="normal" dominant-baseline="central" >0.4</text>
<line x1="422.5" y1="268.5" x2="424.7" y2="268.5" stroke="#b8b8b8" stroke-width="0.50" />
<line x1="518.5" y1="268.5" x2="516.3" y2="268.5" stroke="#b8b8b8" stroke-width="0.50" />
<line x1="422.5" y1="254.5" x2="423.8" y2="254.5" stroke="#b8b8b8" stroke-width="0.50" />
<line x1="518.5" y1="254.5" x2="517.2" y2="254.5" stroke="#b8b8b8" stroke-width="0.50" />
<text x="419.5" y="268.5" font-size="6.30" fill="#2e2e2e" text-anchor="end" font-weight="normal" font-style="normal" dominant-baseline="central" >0.8</text>
<line x1="422.5" y1="240.5" x2="424.7" y2="240.5" stroke="#b8b8b8" stroke-width="0.50" />
<line x1="518.5" y1="240.5" x2="516.3" y2="240.5" stroke="#b8b8b8" stroke-width="0.50" />
<line x1="422.5" y1="226.5" x2="423.8" y2="226.5" stroke="#b8b8b8" stroke-width="0.50" />
<line x1="518.5" y1="226.5" x2="517.2" y2="226.5" stroke="#b8b8b8" stroke-width="0.50" />
<text x="419.5" y="240.5" font-size="6.30" fill="#2e2e2e" text-anchor="end" font-weight="normal" font-style="normal" dominant-baseline="central" >1.2</text>
<line x1="422.5" y1="212.5" x2="424.7" y2="212.5" stroke="#b8b8b8" stroke-width="0.50" />
<line x1="518.5" y1="212.5" x2="516.3" y2="212.5" stroke="#b8b8b8" stroke-width="0.50" />
<line x1="422.5" y1="198.5" x2="423.8" y2="198.5" stroke="#b8b8b8" stroke-width="0.50" />
<line x1="518.5" y1="198.5" x2="517.2" y2="198.5" stroke="#b8b8b8" stroke-width="0.50" />
<text x="419.5" y="212.5" font-size="6.30" fill="#2e2e2e" text-anchor="end" font-weight="normal" font-style="normal" dominant-baseline="central" >1.6</text>
<line x1="422.5" y1="184.5" x2="424.7" y2="184.5" stroke="#b8b8b8" stroke-width="0.50" />
<line x1="518.5" y1="184.5" x2="516.3" y2="184.5" stroke="#b8b8b8" stroke-width="0.50" />
<line x1="422.5" y1="170.5" x2="423.8" y2="170.5" stroke="#b8b8b8" stroke-width="0.50" />
<line x1="518.5" y1="170.5" x2="517.2" y2="170.5" stroke="#b8b8b8" stroke-width="0.50" />
<text x="419.5" y="184.5" font-size="6.30" fill="#2e2e2e" text-anchor="end" font-weight="normal" font-style="normal" dominant-baseline="central" >2</text>
<line x1="422.5" y1="156.5" x2="424.7" y2="156.5" stroke="#b8b8b8" stroke-width="0.50" />
<line x1="518.5" y1="156.5" x2="516.3" y2="156.5" stroke="#b8b8b8" stroke-width="0.50" />
<text x="419.5" y="156.5" font-size="6.30" fill="#2e2e2e" text-anchor="end" font-weight="normal" font-style="normal" dominant-baseline="central" >2.4</text>
<text x="439.6" y="303.0" font-size="6.30" fill="#2e2e2e" text-anchor="middle" font-weight="normal" font-style="normal" dominant-baseline="central" >4.96</text>
<text x="460.9" y="303.0" font-size="6.30" fill="#2e2e2e" text-anchor="middle" font-weight="normal" font-style="normal" dominant-baseline="central" >4.98</text>
<text x="482.2" y="303.0" font-size="6.30" fill="#2e2e2e" text-anchor="middle" font-weight="normal" font-style="normal" dominant-baseline="central" >5</text>
<text x="503.5" y="303.0" font-size="6.30" fill="#2e2e2e" text-anchor="middle" font-weight="normal" font-style="normal" dominant-baseline="central" >5.02</text>
<text x="474.2" y="313.8" font-size="6.70" fill="#333" text-anchor="middle" font-weight="normal" font-style="normal" dominant-baseline="central" >In-plane lattice (Å)</text>
<text x="0" y="0" transform="translate(403.8,78.5) rotate(-90)" font-size="7.4" fill="#333" text-anchor="middle" dominant-baseline="central">n (0.8 eV)</text>
<text x="0" y="0" transform="translate(403.2,225.9) rotate(-90)" font-size="7.4" fill="#333" text-anchor="middle" dominant-baseline="central">k (0.8 eV)</text>
<path d="M452.4,124.2 L476.9,84.9 L485.4,48.3 L506.7,41.3" fill="none" stroke="#d2e4dc" stroke-width="1.7" stroke-dasharray="2.8,1.6"/>
<circle cx="452.4" cy="124.2" r="3.4" fill="#f0f5f3" stroke="#c2d2ca" stroke-width="0.9"/>
<circle cx="452.4" cy="124.2" r="1.1" fill="#dde6e2"/>
<circle cx="476.9" cy="84.9" r="3.4" fill="#f0f5f3" stroke="#c2d2ca" stroke-width="0.9"/>
<circle cx="476.9" cy="84.9" r="1.1" fill="#dde6e2"/>
<circle cx="485.4" cy="48.3" r="3.4" fill="#f0f5f3" stroke="#c2d2ca" stroke-width="0.9"/>
<circle cx="485.4" cy="48.3" r="1.1" fill="#dde6e2"/>
<circle cx="506.7" cy="41.3" r="3.4" fill="#f0f5f3" stroke="#c2d2ca" stroke-width="0.9"/>
<circle cx="506.7" cy="41.3" r="1.1" fill="#dde6e2"/>
<path d="M436.4,139.7 L446.0,121.4 L466.2,68.0 L469.4,51.2 L480.1,34.3 L506.7,38.5" fill="none" stroke="#a6cfbf" stroke-width="1.7" stroke-dasharray="2.8,1.6"/>
<circle cx="436.4" cy="139.7" r="3.4" fill="#98c7b5" stroke="#80b4a0" stroke-width="0.9"/>
<circle cx="446.0" cy="121.4" r="3.4" fill="#98c7b5" stroke="#80b4a0" stroke-width="0.9"/>
<circle cx="466.2" cy="68.0" r="3.4" fill="#98c7b5" stroke="#80b4a0" stroke-width="0.9"/>
<circle cx="469.4" cy="51.2" r="3.4" fill="#98c7b5" stroke="#80b4a0" stroke-width="0.9"/>
<circle cx="480.1" cy="34.3" r="3.4" fill="#98c7b5" stroke="#80b4a0" stroke-width="0.9"/>
<circle cx="506.7" cy="38.5" r="3.4" fill="#98c7b5" stroke="#80b4a0" stroke-width="0.9"/>
<path d="M452.4,196.4 L476.9,220.2 L485.4,255.2 L506.7,278.3" fill="none" stroke="#cdb0cd" stroke-width="1.7" stroke-dasharray="2.8,1.6"/>
<circle cx="452.4" cy="196.4" r="3.5" fill="#dcc4dc" stroke="#bf9fbf" stroke-width="0.9"/>
<circle cx="452.4" cy="196.4" r="1.1" fill="#c9a9c9"/>
<circle cx="476.9" cy="220.2" r="3.5" fill="#dcc4dc" stroke="#bf9fbf" stroke-width="0.9"/>
<circle cx="476.9" cy="220.2" r="1.1" fill="#c9a9c9"/>
<circle cx="485.4" cy="255.2" r="3.5" fill="#dcc4dc" stroke="#bf9fbf" stroke-width="0.9"/>
<circle cx="485.4" cy="255.2" r="1.1" fill="#c9a9c9"/>
<circle cx="506.7" cy="278.3" r="3.5" fill="#dcc4dc" stroke="#bf9fbf" stroke-width="0.9"/>
<circle cx="506.7" cy="278.3" r="1.1" fill="#c9a9c9"/>
<path d="M436.4,170.5 L446.0,196.4 L466.2,233.5 L469.4,255.9 L480.1,269.2 L506.7,289.5" fill="none" stroke="#8d2a88" stroke-width="1.7" stroke-dasharray="2.8,1.6"/>
<circle cx="436.4" cy="170.5" r="3.5" fill="#8a1585" stroke="#7a1076" stroke-width="0.9"/>
<circle cx="446.0" cy="196.4" r="3.5" fill="#8a1585" stroke="#7a1076" stroke-width="0.9"/>
<circle cx="466.2" cy="233.5" r="3.5" fill="#8a1585" stroke="#7a1076" stroke-width="0.9"/>
<circle cx="469.4" cy="255.9" r="3.5" fill="#8a1585" stroke="#7a1076" stroke-width="0.9"/>
<circle cx="480.1" cy="269.2" r="3.5" fill="#8a1585" stroke="#7a1076" stroke-width="0.9"/>
<circle cx="506.7" cy="289.5" r="3.5" fill="#8a1585" stroke="#7a1076" stroke-width="0.9"/>
<line x1="427.5" y1="17.1" x2="439" y2="17.1" stroke="#a6cfbf" stroke-width="1.4" stroke-dasharray="2,1.4"/>
<circle cx="433.2" cy="17.1" r="3.2" fill="#98c7b5" stroke="#80b4a0" stroke-width="0.9"/>
<text x="441.9" y="17.1" font-size="6.40" fill="#222" text-anchor="start" font-weight="normal" font-style="normal" dominant-baseline="central" >1.5% Cr-V<tspan baseline-shift="-25%" font-size="75%">2</tspan>O<tspan baseline-shift="-25%" font-size="75%">3</tspan> films</text>
<line x1="427.5" y1="24.3" x2="439" y2="24.3" stroke="#d2e4dc" stroke-width="1.4" stroke-dasharray="2,1.4"/>
<circle cx="433.2" cy="24.3" r="3.2" fill="#f0f5f3" stroke="#c2d2ca" stroke-width="0.9"/>
<circle cx="433.2" cy="24.3" r="1" fill="#dde6e2"/>
<text x="441.9" y="24.3" font-size="6.40" fill="#222" text-anchor="start" font-weight="normal" font-style="normal" dominant-baseline="central" >Pure V<tspan baseline-shift="-25%" font-size="75%">2</tspan>O<tspan baseline-shift="-25%" font-size="75%">3</tspan> films</text>
<line x1="445.6" y1="165.0" x2="456.8" y2="165.0" stroke="#8d2a88" stroke-width="1.4" stroke-dasharray="2,1.4"/>
<circle cx="451.1" cy="165.0" r="3.4" fill="#8a1585" stroke="#7a1076" stroke-width="0.9"/>
<text x="460.3" y="165.0" font-size="6.40" fill="#222" text-anchor="start" font-weight="normal" font-style="normal" dominant-baseline="central" >1.5% Cr-V<tspan baseline-shift="-25%" font-size="75%">2</tspan>O<tspan baseline-shift="-25%" font-size="75%">3</tspan> films</text>
<line x1="445.6" y1="172.8" x2="456.8" y2="172.8" stroke="#cdb0cd" stroke-width="1.4" stroke-dasharray="2,1.4"/>
<circle cx="451.1" cy="172.8" r="3.4" fill="#dcc4dc" stroke="#bf9fbf" stroke-width="0.9"/>
<circle cx="451.1" cy="172.8" r="1" fill="#c9a9c9"/>
<text x="460.3" y="172.8" font-size="6.40" fill="#222" text-anchor="start" font-weight="normal" font-style="normal" dominant-baseline="central" >Pure V<tspan baseline-shift="-25%" font-size="75%">2</tspan>O<tspan baseline-shift="-25%" font-size="75%">3</tspan> films</text>
<text x="433.6" y="120.2" font-size="6.40" fill="#111" text-anchor="middle" font-weight="bold" font-style="normal" dominant-baseline="central" >PM</text>
<text x="496.8" y="55.4" font-size="6.40" fill="#111" text-anchor="middle" font-weight="bold" font-style="normal" dominant-baseline="central" >PI</text>
<text x="433.0" y="195.0" font-size="6.40" fill="#111" text-anchor="middle" font-weight="bold" font-style="normal" dominant-baseline="central" >PM</text>
<text x="498.4" y="260.0" font-size="6.60" fill="#111" text-anchor="middle" font-weight="bold" font-style="normal" dominant-baseline="central" >PI</text>
</svg>
</body></html>
